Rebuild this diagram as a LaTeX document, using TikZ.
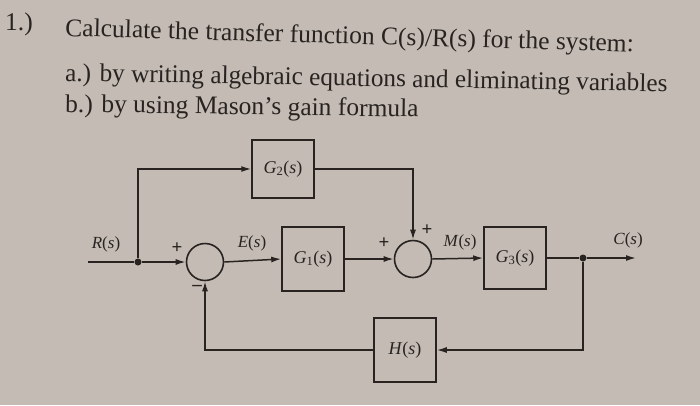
\documentclass[tikz,border=0pt]{standalone}
\usepackage{fontspec}
\setmainfont{Liberation Serif}
\usetikzlibrary{arrows.meta}
\definecolor{paper}{RGB}{196,188,180}
\definecolor{ink}{RGB}{40,35,33}
\newcommand{\tfl}[2]{\textit{#1}\textsubscript{#2}(\textit{s})}
\newcommand{\sig}[1]{\textit{#1}(\textit{s})}
\begin{document}
\begin{tikzpicture}[x=1pt,y=-1pt,
  blk/.style={draw=ink,line width=1.5pt,minimum width=62pt,minimum height=62pt,inner sep=0pt,font=\fontsize{18}{20}\selectfont,text=ink},
  sumj/.style={circle,draw=ink,line width=1.6pt,minimum size=37pt,inner sep=0pt},
  wire/.style={draw=ink,line width=1.5pt},
  arr/.style={wire,-{Latex[length=10pt,width=6pt]}},
  lbl/.style={font=\fontsize{17}{19}\selectfont,text=ink,inner sep=1pt},
  sgn/.style={font=\bfseries\fontsize{19}{20}\selectfont,text=ink,inner sep=0pt},
  title/.style={font=\fontsize{25.5}{28}\selectfont,text=ink,anchor=base west,inner sep=0pt,rotate=-1.6},
  dot/.style={circle,fill=ink,minimum size=7pt,inner sep=0pt}]
\fill[paper] (0,0) rectangle (700,405);
\useasboundingbox (0,0) rectangle (700,405);
% text
\node[title,rotate=1.6] (n1) at (5,30) {1.)};
\node[title] (t1) at (65,36) {Calculate the transfer function C(s)/R(s) for the system:};
\node[title,rotate=0.6,xscale=0.99] (t2) at (65,81) {a.) by writing algebraic equations and eliminating variables};
\node[title,rotate=0.8] (t3) at (65,112) {b.) by using Mason’s gain formula};
% blocks
\node[blk,minimum height=58pt] (G2) at (283,169) {\tfl{G}{2}};
\node[blk,minimum height=64pt] (G1) at (313,259) {\tfl{G}{1}};
\node[blk] (G3) at (515,258) {\tfl{G}{3}};
\node[blk,minimum height=64pt] (H) at (405,350) {\sig{H}};
\node[sumj] (S1) at (205,262) {};
\node[sumj] (S2) at (413,259) {};
\coordinate (Rin) at (88,262);
\node[dot] (d1) at (138,262) {};
\node[dot] (d2) at (583,258) {};
\coordinate (Cout) at (636,258);
% wires
\draw[wire] (Rin) -- (d1);
\draw[arr] (d1) -- (S1.west);
\draw[arr] (d1) |- (G2.west);
\draw[arr] (G2.east) -| (S2.north);
\draw[arr] (S1.east) -- (G1.west);
\draw[arr] (G1.east) -- (S2.west);
\draw[arr] (S2.east) -- (G3.west);
\draw[wire] (G3.east) -- (d2);
\draw[arr] (d2) -- (Cout);
\draw[arr] (d2) |- (H.east);
\draw[arr] (H.west) -| (S1.south);
% labels
\node[lbl] (lR) at (106,244) {\sig{R}};
\node[lbl] (lE) at (252,243) {\sig{E}};
\node[lbl] (lM) at (460,242) {\sig{M}};
\node[lbl] (lC) at (628,240) {\sig{C}};
\node[sgn] (p1) at (177,248) {+};
\node[sgn] (m1) at (197,288) {–};
\node[sgn] (p2) at (384,243) {+};
\node[sgn] (p3) at (427,230) {+};
\end{tikzpicture}
\end{document}
